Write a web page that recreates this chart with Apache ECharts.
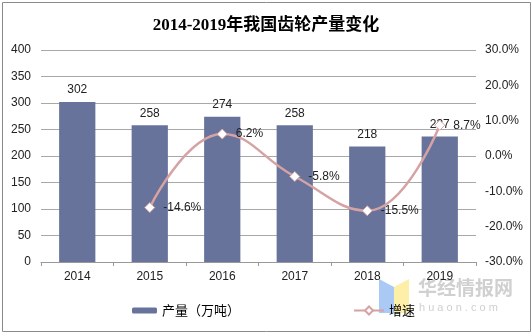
<!DOCTYPE html>
<html>
<head>
<meta charset="utf-8">
<script src="https://cdn.jsdelivr.net/npm/echarts@6/dist/echarts.min.js"></script>
<style>html,body{margin:0;padding:0;background:#fff;}#c{width:532px;height:334px;}</style>
</head>
<body>
<div id="c"></div>
<script>
const categories = ['2014', '2015', '2016', '2017', '2018', '2019'];
const production = [302, 258, 274, 258, 218, 237];
const growth = [null, -14.6, 6.2, -5.8, -15.5, 8.7];
const titleText = '2014-2019年我国齿轮产量变化';
const seriesNames = ['产量（万吨）', '增速'];

const chart = echarts.init(document.getElementById('c'), null, {renderer: 'canvas'});
const txt = {color: '#222', fontSize: 12, fontFamily: 'Liberation Sans, Arial, sans-serif'};
chart.setOption({
  animation: false,
  backgroundColor: '#fff',
  title: {
    text: titleText, left: 'center', top: 12,
    textStyle: {fontSize: 17, fontWeight: 'bold', color: '#000', fontFamily: 'Liberation Serif, Noto Sans CJK SC, serif'}
  },
  graphic: [
    {type: 'rect', shape: {x: 2.5, y: 2.5, width: 528, height: 329}, style: {fill: 'none', stroke: '#8a8a8a', lineWidth: 1}, z: 100},
    {type: 'polygon', shape: {points: [[379, 279], [394, 287], [394, 313], [379, 313]]}, style: {fill: '#aac9f5'}, z: 0},
    {type: 'polygon', shape: {points: [[394, 287], [409, 279], [409, 313], [394, 313]]}, style: {fill: '#fdeea8'}, z: 0},
    {type: 'text', left: 418, top: 278, style: {text: '华经情报网', fill: '#d0d0d0', font: 'bold 19px Noto Sans CJK SC'}, z: 0},
    {type: 'text', left: 419, top: 302, style: {text: 'h u a o n . c o m', fill: '#d0d0d0', font: '11px Liberation Sans'}, z: 0}
  ],
  legend: [
    {
      data: [seriesNames[0]], left: 127, top: 299, itemWidth: 25, itemHeight: 6,
      textStyle: {fontSize: 13, color: '#000', fontFamily: 'Noto Sans CJK SC'}
    },
    {
      data: [seriesNames[1]], left: 348, top: 299, itemWidth: 30, itemHeight: 10,
      textStyle: {fontSize: 13, color: '#000', fontFamily: 'Noto Sans CJK SC'}
    }
  ],
  grid: {left: 41, right: 56, top: 50, bottom: 72},
  xAxis: {
    type: 'category', data: categories, boundaryGap: true,
    axisLine: {lineStyle: {color: '#999'}},
    axisTick: {show: true, length: 4, lineStyle: {color: '#999'}},
    axisLabel: Object.assign({margin: 9}, txt)
  },
  yAxis: [
    {
      type: 'value', min: 0, max: 400, interval: 50,
      axisLine: {show: false}, axisTick: {show: false},
      splitLine: {lineStyle: {color: '#a8a8a8'}},
      axisLabel: Object.assign({margin: 10}, txt)
    },
    {
      type: 'value', min: -30, max: 30, interval: 10,
      axisLine: {show: false}, axisTick: {show: false}, splitLine: {show: false},
      axisLabel: Object.assign({margin: 9, formatter: v => v.toFixed(1) + '%'}, txt)
    }
  ],
  series: [
    {
      name: seriesNames[0], type: 'bar', data: production, barWidth: '50%',
      itemStyle: {color: '#67739b'},
      label: {show: true, position: 'top', distance: 6, color: '#222', fontSize: 12, fontFamily: 'Liberation Sans'}
    },
    {
      name: seriesNames[1], type: 'line', yAxisIndex: 1, data: growth, smooth: 0.45,
      symbol: 'diamond', symbolSize: 10, showSymbol: true, connectNulls: false,
      lineStyle: {color: '#d5a3a3', width: 2.5},
      itemStyle: {color: '#fff', borderColor: '#d5a3a3', borderWidth: 1},
      label: {show: true, position: 'right', distance: 8, color: '#222', fontSize: 12, fontFamily: 'Liberation Sans', formatter: p => p.value.toFixed(1) + '%'},
      z: 5
    }
  ]
});
</script>
</body>
</html>
